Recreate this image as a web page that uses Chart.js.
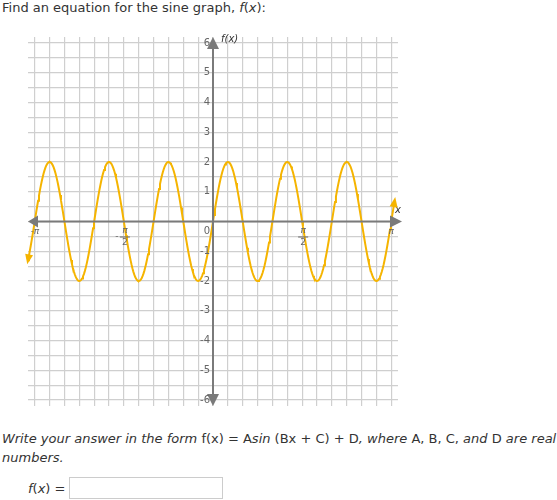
<!DOCTYPE html>
<html><head><meta charset="utf-8">
<script src="https://cdn.jsdelivr.net/npm/chart.js@4"></script>
<style>
body{margin:0;background:#fff;font-family:"DejaVu Sans",sans-serif;font-size:13px;color:#333;width:557px;height:500px;position:relative;overflow:hidden}
#t{position:absolute;left:2px;top:0px}
#c{position:absolute;left:0;top:20px}
#q{position:absolute;left:2px;top:429px;line-height:19px;width:556px}
#a{position:absolute;left:28px;top:481px}
#box{position:absolute;left:69px;top:477px;width:152px;height:20px;border:1px solid #ccc}
</style></head><body>
<div id="t">Find an equation for the sine graph, <i>f</i>(<i>x</i>):</div>
<canvas id="c" width="557" height="400"></canvas>
<div id="q"><i>Write your answer in the form</i> f(x) = A<i>sin</i> (Bx + C) + D<i>, where</i> A, B, C, <i>and</i> D <i>are real numbers.</i></div>
<div id="a"><i>f</i>(<i>x</i>) =</div>
<div id="box"></div>
<script>
const amplitude = 2;
const frequency = 6;
const xStart = -3.26, xEnd = 3.2;
const yTickLabels = [-6,-5,-4,-3,-2,-1,1,2,3,4,5,6];
const xTickLabels = [{v:-Math.PI,t:"-π"},{v:-Math.PI/2,t:"-π/2"},{v:Math.PI/2,t:"π/2"},{v:Math.PI,t:"π"}];
const pts=[];
for(let i=0;i<=400;i++){const x=xStart+(xEnd-xStart)*i/400;pts.push({x:x,y:amplitude*Math.sin(frequency*x)});}
const P=Math.PI;
const axes={id:'axes',afterDatasetsDraw(ch){
 const c=ch.ctx,xs=ch.scales.x,ys=ch.scales.y,a=ch.chartArea;
 const x0=xs.getPixelForValue(0),y0=ys.getPixelForValue(0);
 c.save();c.strokeStyle='#7a7a7a';c.fillStyle='#7a7a7a';c.lineWidth=2;
 c.beginPath();c.moveTo(a.left+8,y0);c.lineTo(a.right-6,y0);c.moveTo(x0,a.top+8);c.lineTo(x0,a.bottom-8);c.stroke();
 const tri=(p)=>{c.beginPath();c.moveTo(...p[0]);c.lineTo(...p[1]);c.lineTo(...p[2]);c.fill();};
 tri([[a.left,y0],[a.left+10,y0-6],[a.left+10,y0+6]]);
 tri([[a.right+4,y0],[a.right-8,y0-6],[a.right-8,y0+6]]);
 tri([[x0,a.top],[x0-6,a.top+12],[x0+6,a.top+12]]);
 tri([[x0,a.bottom],[x0-6,a.bottom-12],[x0+6,a.bottom-12]]);
 c.font='10px "DejaVu Sans"';c.fillStyle='#666';c.textAlign='right';c.textBaseline='middle';
 yTickLabels.forEach(v=>c.fillText(String(v),x0-3,ys.getPixelForValue(v)));
 c.fillText('0',x0-3,y0+10);
 c.textAlign='center';c.font='italic 9px "DejaVu Sans"';
 xTickLabels.forEach(o=>{const px=xs.getPixelForValue(o.v);
  if(o.t.includes('/')){const neg=o.t[0]==='-';c.fillText('π',px+1,y0+9);c.fillRect(px-4,y0+15,10,1);c.font='9px "DejaVu Sans"';c.fillText('2',px+1,y0+21);if(neg){c.fillText('-',px-7,y0+15);}c.font='italic 9px "DejaVu Sans"';}
  else c.fillText(o.t,px,y0+10);});
 c.font='italic 10px "DejaVu Sans"';c.textAlign='left';c.fillStyle='#333';
 c.fillText('f(x)',x0+8,a.top+2);c.fillText('x',a.right-3,y0-11);
 const d=ch.getDatasetMeta(0).data;c.fillStyle='#f5b400';
 const arr=(p,q)=>{const ang=Math.atan2(p.y-q.y,p.x-q.x);c.save();c.translate(p.x,p.y);c.rotate(ang);c.beginPath();c.moveTo(4,0);c.lineTo(-6,-4);c.lineTo(-6,4);c.fill();c.restore();};
 arr(d[0],d[3]);arr(d[d.length-1],d[d.length-4]);
 c.restore();}};
new Chart(document.getElementById('c'),{type:'scatter',
 data:{datasets:[{data:pts,showLine:true,pointRadius:0,borderColor:'#f5b400',borderWidth:2,tension:0}]},
 options:{responsive:false,animation:false,events:[],
  layout:{padding:{left:28,right:159,top:17,bottom:14}},
  plugins:{legend:{display:false},tooltip:{enabled:false}},
  scales:{
   x:{min:-3.26,max:3.26,border:{display:false},ticks:{display:false},
      afterBuildTicks(s){const t=[];for(let k=-12;k<=12;k++)t.push({value:k*P/12});s.ticks=t;},
      grid:{color:'#cfcfcf',lineWidth:1.2,drawTicks:false}},
   y:{min:-6.2,max:6.2,border:{display:false},ticks:{display:false},
      afterBuildTicks(s){const t=[];for(let k=-12;k<=12;k++)t.push({value:k/2});s.ticks=t;},
      grid:{color:'#cfcfcf',lineWidth:1.2,drawTicks:false}}}},
 plugins:[axes]});
</script></body></html>
